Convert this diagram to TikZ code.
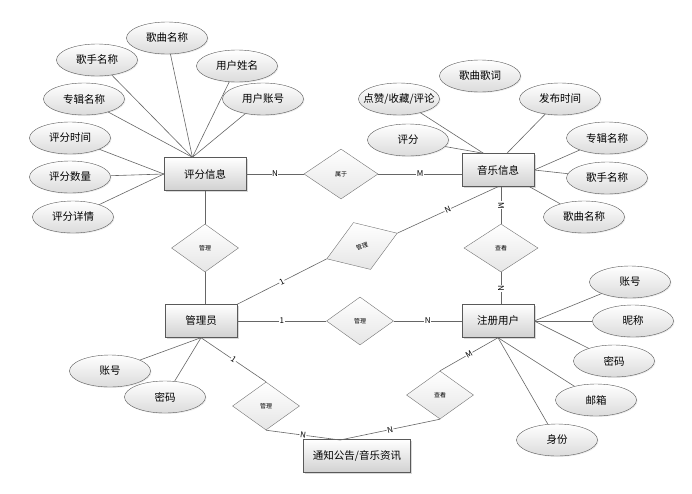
\documentclass[tikz,border=0pt]{standalone}
\usepackage{fontspec}
\setmainfont{Noto Sans CJK SC}
\usetikzlibrary{shapes.geometric,shadows}

\begin{document}
\begin{tikzpicture}[
      x=1pt, y=-1pt,
      entity/.style={rectangle, draw=black!65, top color=white, bottom color=black!18,
        drop shadow={opacity=0.3, shadow xshift=1.5pt, shadow yshift=-1.5pt},
        minimum height=33pt, inner sep=2pt, font=\fontsize{10.5}{12}\selectfont},
      attr/.style={ellipse, draw=black!65, top color=white, bottom color=black!14,
        drop shadow={opacity=0.15, shadow xshift=1pt, shadow yshift=-1pt},
        minimum width=81pt, minimum height=32pt, inner sep=1pt, font=\fontsize{10.5}{12}\selectfont},
      rel/.style={diamond, draw=black!55, top color=white, bottom color=black!10,
        minimum width=67pt, minimum height=48pt, inner sep=0pt, font=\fontsize{6}{7}\selectfont},
      card/.style={fill=white, inner sep=0.6pt, sloped, font=\fontsize{8}{9}\selectfont},
      link/.style={draw=black!60, line width=0.6pt},
  ]
    \useasboundingbox (0,0) rectangle (692,493);

    \node[entity, minimum width=82pt] (pf) at (205,174) {评分信息};
    \node[entity, minimum width=72pt] (yy) at (498,170) {音乐信息};
    \node[entity, minimum width=72pt] (gly) at (201,321) {管理员};
    \node[entity, minimum width=72pt] (zc) at (498,321) {注册用户};
    \node[entity, minimum width=107pt] (tz) at (357,456) {通知公告/音乐资讯};
    \coordinate (tzin) at (340,440);

    \node[rel, minimum width=74pt, minimum height=50pt] (sy) at (341,174) {属于};
    \node[rel] (glpf) at (205,248) {管理};
    \node[rel, minimum width=75pt, minimum height=50pt, rotate=20] (glyy) at (362,246) {管理};
    \node[rel, minimum width=74pt] (ckyy) at (501,248) {查看};
    \node[rel] (glzc) at (360,321) {管理};
    \node[rel] (gltz) at (266,406) {管理};
    \node[rel] (cktz) at (440,395) {查看};

    \node[attr] (gqmc) at (167,38) {歌曲名称};
    \node[attr] (gsmc) at (97,60) {歌手名称};
    \node[attr] (yhxm) at (237,66) {用户姓名};
    \node[attr] (yhzh) at (263,99) {用户账号};
    \node[attr] (zjmc) at (84,99) {专辑名称};
    \node[attr] (pfsj) at (70,138) {评分时间};
    \node[attr] (pfsl) at (70,177) {评分数量};
    \node[attr] (pfxq) at (73,217) {评分详情};

    \node[attr] (gqgc) at (480,76) {歌曲歌词};
    \node[attr, inner xsep=-8pt] (dzsc) at (399,99) {点赞/收藏/评论};
    \node[attr] (fbsj) at (560,99) {发布时间};
    \node[attr] (pfen) at (408,140) {评分};
    \node[attr] (zjmc2) at (607,138) {专辑名称};
    \node[attr] (gsmc2) at (607,178) {歌手名称};
    \node[attr] (gqmc2) at (584,217) {歌曲名称};

    \node[attr] (zh) at (110,371) {账号};
    \node[attr] (mm) at (165,397) {密码};

    \node[attr] (zh2) at (630,282) {账号};
    \node[attr] (nc) at (633,321) {昵称};
    \node[attr] (mm2) at (614,361) {密码};
    \node[attr] (yx) at (596,400) {邮箱};
    \node[attr] (sf) at (557,440) {身份};

    \foreach \a in {gqmc,gsmc,yhxm,yhzh,zjmc} \draw[link] (\a) -- (pf.127);
    \foreach \a in {pfsj,pfsl,pfxq} \draw[link] (\a) -- (pf.west);
    \foreach \a in {dzsc,pfen} \draw[link] (\a) -- (yy.131);
    \draw[link] (fbsj) -- (yy.62);
    \foreach \a in {zjmc2,gsmc2} \draw[link] (\a) -- (yy.east);
    \draw[link] (gqmc2) -- (yy.-28);
    \foreach \a in {zh,mm} \draw[link] (\a) -- (gly.south);
    \foreach \a in {zh2,nc,mm2} \draw[link] (\a) -- (zc.east);
    \foreach \a in {yx,sf} \draw[link] (\a) -- (zc.south);

    \draw[link] (pf.east) -- node[card] {N} (sy.west);
    \draw[link] (sy.east) -- node[card] {M} (sy.east -| yy.west);
    \draw[link] (pf.south) -- (glpf.north);
    \draw[link] (glpf.south) -- (glpf.south |- gly.north);
    \draw[link] (gly.north east) -- node[card] {1} (glyy.west);
    \draw[link] (glyy.east) -- node[card] {N} (yy.south);
    \draw[link] (ckyy.north |- yy.south) -- node[card] {M} (ckyy.north);
    \draw[link] (ckyy.south) -- node[card] {N} (ckyy.south |- zc.north);
    \draw[link] (gly.east) -- node[card] {1} (glzc.west);
    \draw[link] (glzc.east) -- node[card] {N} (zc.west);
    \draw[link] (gly.south) -- node[card] {1} (gltz.north);
    \draw[link] (gltz.south) -- node[card] {N} (tzin);
    \draw[link] (cktz.south) -- node[card] {N} (tzin);
    \draw[link] (zc.south) -- node[card] {M} (cktz.north);
  \end{tikzpicture}
\end{document}
